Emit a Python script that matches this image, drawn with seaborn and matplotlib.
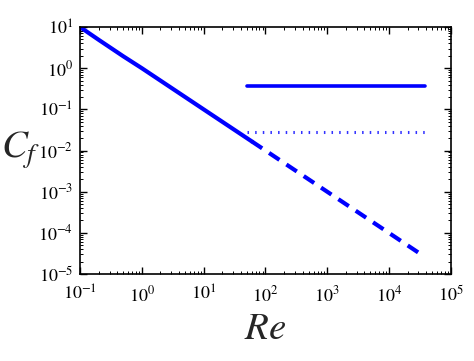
import matplotlib
matplotlib.use("Agg")
import matplotlib.pyplot as plt
from matplotlib.ticker import LogLocator
import seaborn as sns
import pandas as pd

# laminar friction coefficient
re_solid = [0.1, 0.2, 0.5, 1.0, 10.0, 60.0]
cf_solid = [10.0, 4.9, 1.95, 1.0, 0.1, 0.0167]

re_dashed = [60.0, 3.2e4]
cf_dashed = [0.0167, 3.1e-5]

re_flat = [50.0, 3.8e4]
cf_flat_top = [0.37, 0.37]
cf_flat_dot = [0.028, 0.028]

sns.set_style("ticks")
plt.rcParams["font.family"] = ["STIXGeneral", "DejaVu Serif"]
plt.rcParams["mathtext.fontset"] = "stix"
plt.rcParams["xtick.direction"] = "in"
plt.rcParams["ytick.direction"] = "in"

fig = plt.figure(figsize=(4.74, 3.61), dpi=100)
ax = fig.add_axes([0.169, 0.241, 0.782, 0.684])

blue = "#0000ff"
sns.lineplot(data=pd.DataFrame({"Re": re_solid, "Cf": cf_solid}), x="Re", y="Cf",
             ax=ax, color=blue, lw=3)
sns.lineplot(data=pd.DataFrame({"Re": re_dashed, "Cf": cf_dashed}), x="Re", y="Cf",
             ax=ax, color=blue, lw=3, linestyle=(0, (3, 2)))
sns.lineplot(data=pd.DataFrame({"Re": re_flat, "Cf": cf_flat_top}), x="Re", y="Cf",
             ax=ax, color=blue, lw=2.6)
sns.lineplot(data=pd.DataFrame({"Re": re_flat, "Cf": cf_flat_dot}), x="Re", y="Cf",
             ax=ax, color=blue, lw=2.2, linestyle=(0, (0.5, 2.0)), alpha=0.8)

ax.set_xscale("log")
ax.set_yscale("log")
ax.set_xlim(1e-1, 1e5)
ax.set_ylim(1e-5, 1e1)
ax.yaxis.set_major_locator(LogLocator(base=10, numticks=20))
ax.yaxis.set_minor_locator(LogLocator(base=10, subs=range(2, 10), numticks=20))
ax.xaxis.set_major_locator(LogLocator(base=10, numticks=20))
ax.xaxis.set_minor_locator(LogLocator(base=10, subs=range(2, 10), numticks=20))

for s in ax.spines.values():
    s.set_visible(True)
    s.set_linewidth(1.2)
    s.set_color("black")

ax.tick_params(which="both", top=True, right=True, direction="in", colors="black",
               labelsize=13, pad=5)
ax.tick_params(axis="x", pad=8)
ax.tick_params(which="major", length=5, width=1)
ax.tick_params(which="minor", length=2.5, width=0.7)

ax.set_xlabel("$Re$", fontsize=28, va="center")
ax.set_ylabel("$C_f$", fontsize=28, rotation=0, va="center", ha="center")
ax.xaxis.set_label_coords(0.5, -0.225)
ax.yaxis.set_label_coords(-0.16, 0.5)

fig.savefig("out.png", dpi=100, facecolor="white")
